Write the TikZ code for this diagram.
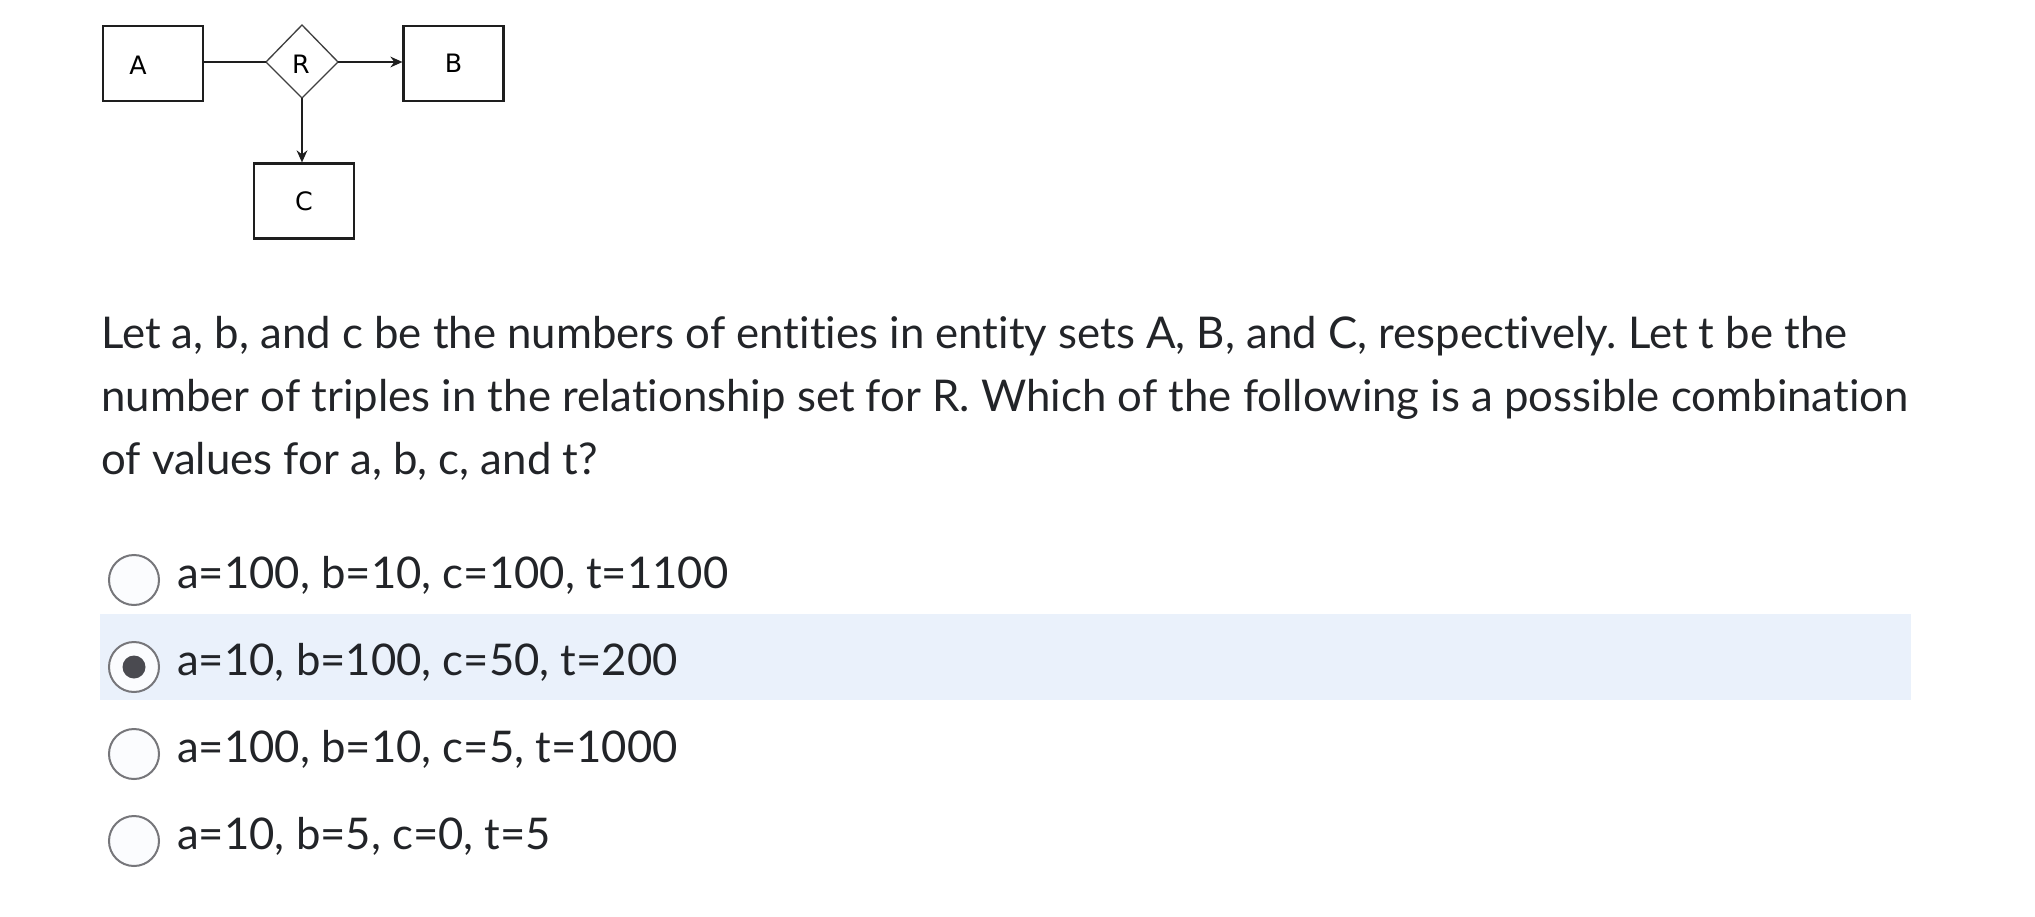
\documentclass[tikz,border=0pt]{standalone}
\usepackage{fontspec}
\setmainfont[Ligatures=NoCommon]{Lato}
\newfontfamily\diagfont{DejaVu Sans}
\usetikzlibrary{arrows.meta}
\frenchspacing
\definecolor{txt}{RGB}{34,36,40}
\definecolor{hilite}{RGB}{234,241,251}
\definecolor{radioring}{RGB}{118,118,122}
\definecolor{radiofill}{RGB}{251,252,254}
\definecolor{radiodot}{RGB}{74,74,80}
\definecolor{erline}{RGB}{30,30,30}
\tikzset{
  entity/.style={draw=erline, line width=1.6pt, minimum width=75pt, minimum height=56.25pt, inner sep=0pt, font=\diagfont\fontsize{19pt}{19pt}\selectfont},
  relship/.style={draw=erline!85, line width=1pt},
  erconn/.style={draw=erline, line width=1.6pt},
  ertip/.style={-{Stealth[length=9pt,width=8pt]}},
  para/.style={anchor=base west, inner sep=0pt, text=txt, font=\fontsize{32.8pt}{40pt}\selectfont},
  opt/.style={anchor=base west, inner sep=0pt, text=txt, font=\fontsize{32.75pt}{40pt}\selectfont},
  radio/.style={circle, draw=radioring, fill=radiofill, line width=1.5pt, minimum size=37.5pt, inner sep=0pt},
  radiodotstyle/.style={circle, fill=radiodot, minimum size=17.25pt, inner sep=0pt},
}
\begin{document}
\begin{tikzpicture}[x=0.75pt,y=-0.75pt]
\useasboundingbox (0,0) rectangle (2035,917);
\fill[white] (0,0) rectangle (2035,917);

% ER diagram
\node[entity] (A) at (153,63.5) {};
\node[font=\diagfont\fontsize{19pt}{19pt}\selectfont, inner sep=0pt] (Alab) at (138,65) {A};
\node[entity] (B) at (453.5,63.5) {B};
\node[entity] (C) at (304,201) {C};
\coordinate (Rn) at (302,25);
\coordinate (Re) at (338,62);
\coordinate (Rs) at (302,98);
\coordinate (Rw) at (266,62);
\draw[relship] (Rn) -- (Re) -- (Rs) -- (Rw) -- cycle;
\node[font=\diagfont\fontsize{19pt}{19pt}\selectfont, inner sep=0pt] (R) at (301,64) {R};
\draw[erconn] (A.east |- Rw) -- (Rw);
\draw[erconn, ertip] (Re) -- (B.west |- Re);
\draw[erconn, ertip] (Rs) -- (Rs |- C.north);

% question text
\node[para] (l1) at (101,348) {Let a, b, and c be the numbers of entities in entity sets A, B, and C, respectively. Let t be the};
\node[para] (l2) at (101,411) {number of triples in the relationship set for R. Which of the following is a possible combination};
\node[para] (l3) at (101,474) {of values for a, b, c, and t?};

% highlight of selected answer
\fill[hilite] (100,614) rectangle (1911,700);

% options
\node[radio] (r1) at (134,580) {};
\node[radio] (r2) at (134,667) {};
\node[radiodotstyle] (r2dot) at (r2.center) {};
\node[radio] (r3) at (134,754) {};
\node[radio] (r4) at (134,841) {};
\node[opt] (o1) at (177,588) {a=100, b=10, c=100, t=1100};
\node[opt] (o2) at (177,675) {a=10, b=100, c=50, t=200};
\node[opt] (o3) at (177,762) {a=100, b=10, c=5, t=1000};
\node[opt] (o4) at (177,849) {a=10, b=5, c=0, t=5};
\end{tikzpicture}
\end{document}
